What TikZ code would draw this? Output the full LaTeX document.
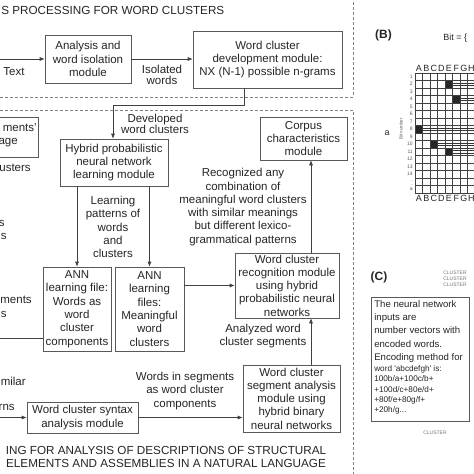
\documentclass[tikz,border=0pt]{standalone}
\usepackage{fontspec}
\setmainfont{Liberation Sans}
\usetikzlibrary{arrows.meta,positioning}
\tikzset{FlowBox/.style={rectangle,draw=black!65,align=center,inner xsep=1pt,inner ysep=1pt}}
\tikzset{FlowLabel/.style={align=center,inner sep=0pt}}
\tikzset{CutText/.style={anchor=east,inner sep=0pt}}
\tikzset{Frame/.style={draw=black!50,dash pattern=on 3pt off 2pt}}
\tikzset{TitleText/.style={inner sep=0pt,font=\fontsize{11.7}{13}\selectfont}}
\tikzset{PanelTag/.style={inner sep=0pt,font=\bfseries\fontsize{12}{14}\selectfont}}
\tikzset{TinyGray/.style={anchor=west,inner sep=0pt,text=black!55,font=\fontsize{5}{6}\selectfont}}
\tikzset{BitCell/.style={fill=black!85}}
\tikzset{NoteText/.style={anchor=north west,inner sep=0pt,align=left}}
\newcommand{\cw}{7.5}

\begin{document}
\begin{tikzpicture}[x=1pt,y=-1pt,>={Latex[length=5pt,width=4pt]},line width=0.6pt,
  text=black!85,font=\fontsize{11.5}{13.3}\selectfont]
\useasboundingbox (0,0) rectangle (474,474);
\clip (0,0) rectangle (474,474);
\fill[white] (0,0) rectangle (474,474);

% dashed frames
\draw[Frame] (0,97) -- (353,97) -- (353,-5);
\draw[Frame] (0,110) -- (353,110) -- (353,480);

% upper part
\node (title1) at (1,10) [TitleText,anchor=west] {S PROCESSING FOR WORD CLUSTERS};
\coordinate (textin) at (0,59);
\node (analysis) at (88,59) [FlowBox,minimum width=86,minimum height=48] {Analysis and\\word isolation\\module};
\node (devmod) at (267.5,59.5) [FlowBox,minimum width=149,minimum height=57] {Word cluster\\development module:\\NX (N-1) possible n-grams};
\draw [->,black!75] (textin) -- (analysis.west);
\draw [->,black!75] (analysis.east) -- (analysis.east -| devmod.west);
\node (lbltext) at (14,72) [FlowLabel] {Text};
\node (lbliso) at (162,75) [FlowLabel,font=\fontsize{11.5}{11.5}\selectfont] {Isolated\\words};

% lower part
\node (segbox) at (-11,137) [FlowBox,minimum width=98,minimum height=40] {};
\node (segfragA) at (37,128) [CutText] {ments'};
\node (segfragB) at (18,143) [CutText] {age};
\node (fragC) at (31,168) [CutText] {usters};
\node (fragD) at (5,223) [CutText] {s};
\node (fragE) at (7,236) [CutText] {s};
\node (fragF) at (32,300) [CutText] {ments};
\node (fragG) at (7,314) [CutText] {s};
\node (fragH) at (26,381) [CutText] {milar};
\node (fragI) at (15,407) [CutText] {rns};

\node (hybrid) at (114,162.5) [FlowBox,minimum width=108,minimum height=47] {Hybrid probabilistic\\neural network\\learning module};
\node (corpus) at (303.5,138.5) [FlowBox,minimum width=87,minimum height=43] {Corpus\\characteristics\\module};
\node (ann1) at (77,309) [FlowBox,minimum width=68,minimum height=84] {ANN\\learning file:\\Words as\\word\\cluster\\components};
\node (ann2) at (149.5,309) [FlowBox,minimum width=69,minimum height=84] {ANN\\learning\\files:\\Meaningful\\word\\clusters};
\node (recog) at (287,285.5) [FlowBox,minimum width=104,minimum height=65] {Word cluster\\recognition module\\using hybrid\\probabilistic neural\\networks};
\node (segan) at (291.5,398.5) [FlowBox,minimum width=97,minimum height=67] {Word cluster\\segment analysis\\module using\\hybrid binary\\neural networks};
\node (syntax) at (82.5,417.5) [FlowBox,minimum width=111,minimum height=31] {Word cluster syntax\\analysis module};

\coordinate (bendA) at (244,105);
\coordinate (bendB) at (113,105);
\coordinate (upline) at (311,0);
\coordinate (annin) at (0,338);
\coordinate (synin) at (0,417.5);
\draw [->,black!75] (devmod.south -| bendA) -- (bendA) -- (bendB) -- (bendB |- hybrid.north);
\draw [->,black!75] (ann1.north |- hybrid.south) -- (ann1.north);
\draw [->,black!75] (ann2.north |- hybrid.south) -- (ann2.north);
\draw [->,black!75] (ann2.east |- recog.west) -- (recog.west);
\draw [->,black!75] (recog.north -| upline) -- (corpus.south -| upline);
\draw [->,black!75] (segan.north -| upline) -- (recog.south -| upline);
\draw [->,black!75] (syntax.east) -- (syntax.east -| segan.west);
\draw [->,black!75] (synin) -- (syntax.west);
\draw [black!75] (annin) -- (annin -| ann1.west);

\node (lbldev) at (155,124) [FlowLabel,font=\fontsize{11.5}{11.5}\selectfont] {Developed\\word clusters};
\node (lbllearn) at (113,227) [FlowLabel] {Learning\\patterns of\\words\\and\\clusters};
\node (lblrec) at (243,207) [FlowLabel] {Recognized any\\combination of\\meaningful word clusters\\with similar meanings\\but different lexico-\\grammatical patterns};
\node (lblana) at (263,336) [FlowLabel] {Analyzed word\\cluster segments};
\node (lblwis) at (185,391) [FlowLabel] {Words in segments\\as word cluster\\components};

\node (title2) at (166,456.5) [TitleText,align=center] {ING FOR ANALYSIS OF DESCRIPTIONS OF STRUCTURAL\\ELEMENTS AND ASSEMBLIES IN A NATURAL LANGUAGE};

% panel B
\node (tagB) at (383.5,35) [PanelTag] {(B)};
\node (bitlbl) at (443,38) [anchor=west,inner sep=0pt,font=\fontsize{9}{10}\selectfont] {Bit = \{};
\foreach \c/\r in {5/2,6/4,1/8,3/10,5/11} {
  \fill [BitCell] ({415+\cw*(\c-1)},{73+\cw*(\r-1)}) rectangle +(\cw,\cw);
  \draw [black!80,line width=0.5pt] ({415+\cw*\c},{73+\cw*\r-\cw/2-1.3}) -- (476,{73+\cw*\r-\cw/2-1.3});
  \draw [black!80,line width=0.5pt] ({415+\cw*\c},{73+\cw*\r-\cw/2+1.3}) -- (476,{73+\cw*\r-\cw/2+1.3});
}
\foreach \i in {0,...,16}
  \draw [black!75,line width=0.5pt] (415,{73+\cw*\i}) -- (476,{73+\cw*\i});
\foreach \j in {0,...,8}
  \draw [black!75,line width=0.5pt] ({415+\cw*\j},73) -- ({415+\cw*\j},193);
\foreach \c [count=\k] in {A,B,C,D,E,F,G,H} {
  \node (top\c) at ({415+\cw*\k-\cw/2},68) [inner sep=0pt,font=\fontsize{9}{10}\selectfont] {\c};
  \node (bot\c) at ({415+\cw*\k-\cw/2},198) [inner sep=0pt,font=\fontsize{9}{10}\selectfont] {\c};
}
\foreach \r in {1,...,14}
  \node (row\r) at (413,{73+\cw*\r-\cw/2}) [anchor=east,inner sep=0pt,text=black!65,font=\fontsize{5}{6}\selectfont] {\r};
\node (rowdots) at (413,{73+\cw*15-\cw/2}) [anchor=east,inner sep=0pt,font=\fontsize{5}{6}\selectfont] {$\vdots$};
\node (rowa) at (413,{73+\cw*16-\cw/2}) [anchor=east,inner sep=0pt,text=black!65,font=\fontsize{5}{6}\selectfont] {a};
\node (bitnum) at (401,129) [rotate=90,inner sep=0pt,text=black!65,font=\fontsize{4.5}{5}\selectfont] {Bit number};
\node (vara) at (387,133) [inner sep=0pt,font=\fontsize{9}{10}\selectfont] {a};

% panel C
\node (tagC) at (379,277) [PanelTag] {(C)};
\node (clA) at (443,273) [TinyGray] {CLUSTER};
\node (clB) at (443,279) [TinyGray] {CLUSTER};
\node (clC) at (443,285) [TinyGray] {CLUSTER};
\node (clD) at (423,433) [TinyGray] {CLUSTER};
\draw [black!65] (371,297) rectangle (469,421);
\node (ctextA) at (374,300) [NoteText,font=\fontsize{9.6}{13.3}\selectfont] {The neural network\\inputs are\\number vectors with\\encoded words.\\Encoding method for};
\node (ctextB) at ([yshift=-2.5]ctextA.south west) [NoteText,font=\fontsize{8.2}{10.3}\selectfont] {word \textquotesingle abcdefgh\textquotesingle{} is:\\100b/a+100c/b+\\+100d/c+80e/d+\\+80f/e+80g/f+\\+20h/g...};
\end{tikzpicture}
\end{document}
